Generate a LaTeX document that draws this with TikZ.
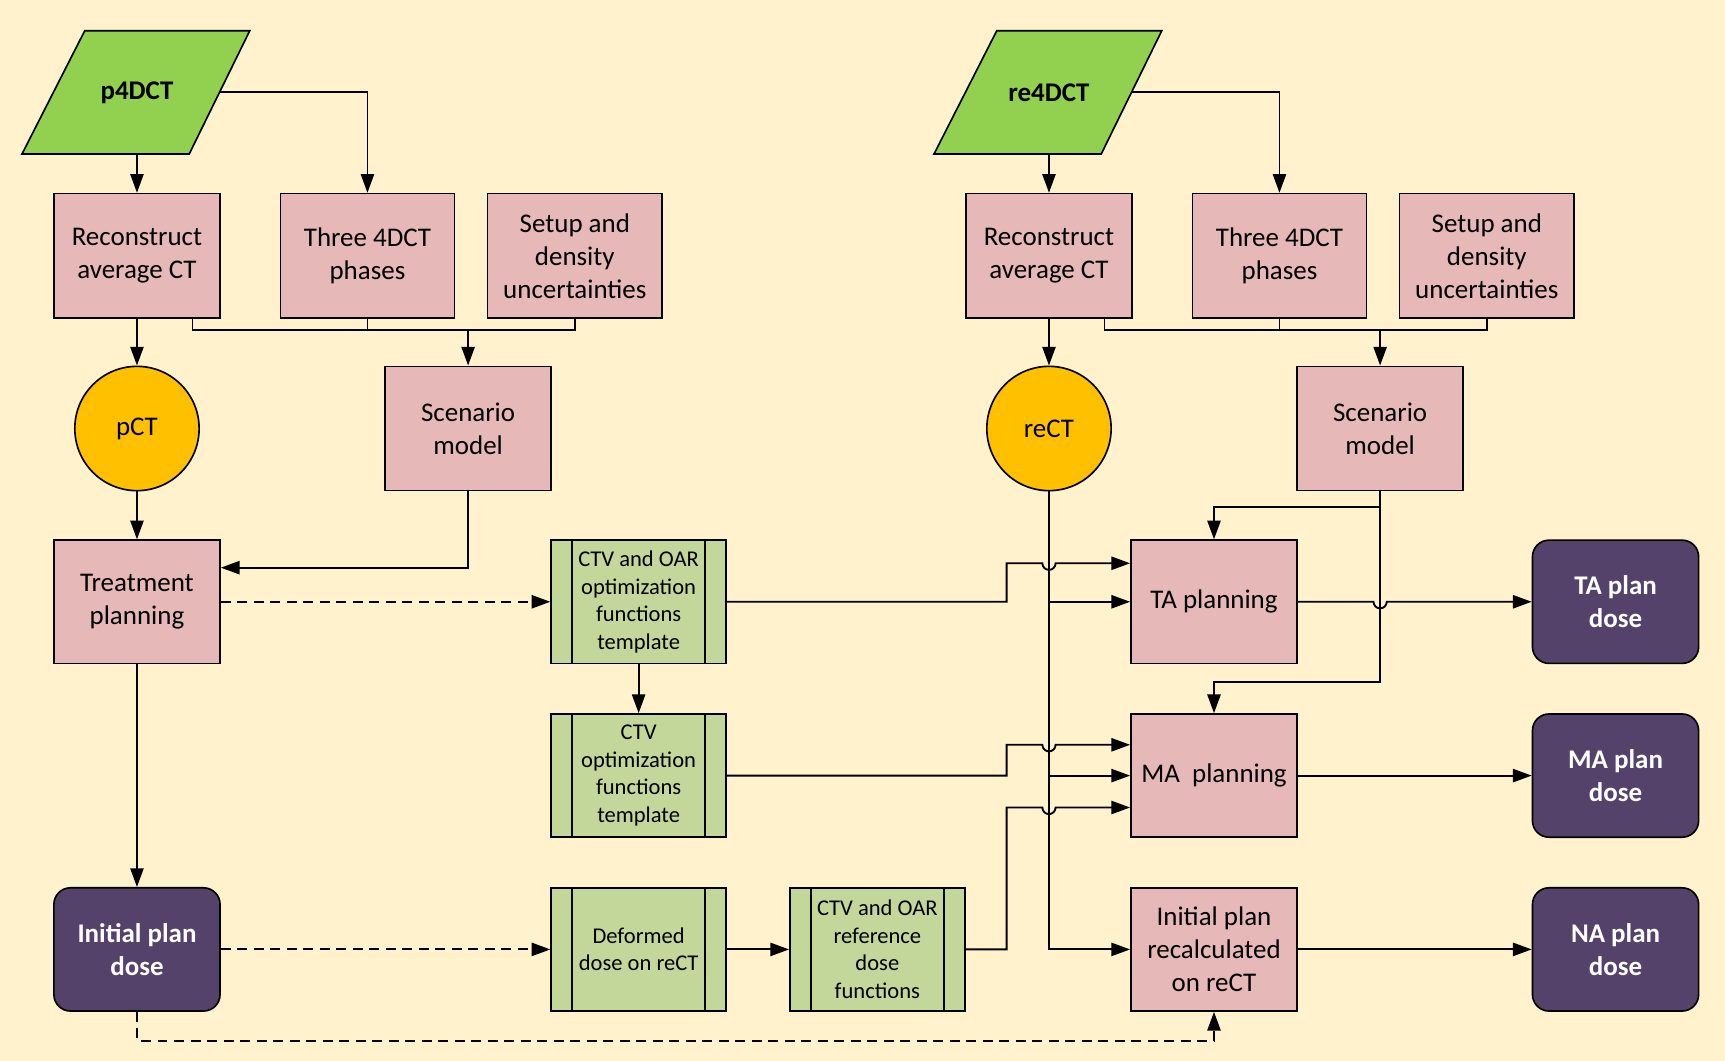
\documentclass[tikz,border=0pt]{standalone}
\usepackage{fontspec}
\setmainfont{Carlito}
\usetikzlibrary{arrows.meta}
\definecolor{bgc}{HTML}{FFF2CC}
\definecolor{pinkc}{HTML}{E6B8B7}
\definecolor{greenc}{HTML}{C4D79B}
\definecolor{datac}{HTML}{92D050}
\definecolor{orangec}{HTML}{FFC000}
\definecolor{purplec}{HTML}{55426B}
\tikzset{
  pinkbox/.style={draw, line width=1.5pt, fill=pinkc, minimum width=151pt, minimum height=113pt, align=center, inner sep=2pt, font=\fontsize{24.5}{30}\selectfont},
  greenbox/.style={draw, line width=1.5pt, fill=greenc, minimum width=159pt, minimum height=112pt, align=center, inner sep=2pt, font=\fontsize{20.5}{25}\selectfont,
    path picture={\draw[line width=1.5pt] ([xshift=19pt]path picture bounding box.north west) -- ([xshift=19pt]path picture bounding box.south west);
                  \draw[line width=1.5pt] ([xshift=-19pt]path picture bounding box.north east) -- ([xshift=-19pt]path picture bounding box.south east);}},
  dosebox/.style={draw, line width=1.5pt, fill=purplec, rounded corners=15pt, minimum width=151pt, minimum height=112pt, align=center, text=white, font=\fontsize{24.5}{30}\selectfont\bfseries},
  ctcircle/.style={draw, line width=1.5pt, fill=orangec, circle, minimum size=113pt, inner sep=0pt, font=\fontsize{24.5}{30}\selectfont},
  datashape/.style={draw, line width=1.5pt, fill=datac},
  conn/.style={line width=1.7pt},
  arr/.style={conn, -{Triangle[length=17pt, width=12pt]}},
  dashy/.style={dash pattern=on 9pt off 6pt},
}
\begin{document}
\begin{tikzpicture}[x=1pt, y=-1pt]
\fill[bgc] (0,0) rectangle (1568,964);
\useasboundingbox (0,0) rectangle (1568,964);

% ---- data inputs
\draw[datashape] (77,28) -- (227,28) -- (172,140) -- (20,140) -- cycle;
\node[minimum width=148pt, minimum height=112pt, inner sep=0pt, font=\fontsize{24.5}{30}\selectfont\bfseries] (p4) at (124.5,84) {p4DCT};
\draw[datashape] (906,28) -- (1056,28) -- (1001,140) -- (849,140) -- cycle;
\node[minimum width=148pt, minimum height=112pt, inner sep=0pt, font=\fontsize{24.5}{30}\selectfont\bfseries] (re4) at (953.5,84) {re4DCT};

% ---- top rows
\node[pinkbox] (rec1) at (124.5,232.5) {Reconstruct\\average CT};
\node[pinkbox, minimum width=158pt] (thr1) at (334,232.5) {Three 4DCT\\phases};
\node[pinkbox, minimum width=159pt] (set1) at (522.5,232.5) {Setup and\\density\\uncertainties};
\node[pinkbox] (scen1) at (425.5,389.5) {Scenario\\model};
\node[ctcircle] (pct) at (124.5,389.5) {pCT};

\node[pinkbox] (rec2) at (953.5,232.5) {Reconstruct\\average CT};
\node[pinkbox, minimum width=158pt] (thr2) at (1163,232.5) {Three 4DCT\\phases};
\node[pinkbox, minimum width=159pt] (set2) at (1351.5,232.5) {Setup and\\density\\uncertainties};
\node[pinkbox] (scen2) at (1254.5,389.5) {Scenario\\model};
\node[ctcircle] (rect) at (953.5,389.5) {reCT};

% ---- lower left
\node[pinkbox, minimum height=112pt] (treat) at (124.5,547) {Treatment\\planning};
\node[dosebox] (init) at (124.5,863) {Initial plan\\dose};
\node[greenbox] (ctvoar) at (580.5,547) {CTV and OAR\\optimization\\functions\\template};
\node[greenbox] (ctv) at (580.5,705) {CTV\\optimization\\functions\\template};
\node[greenbox] (deformed) at (580.5,863) {Deformed\\dose on reCT};
\node[greenbox] (ref) at (797.5,863) {CTV and OAR\\reference\\dose\\functions};

% ---- lower right
\node[pinkbox, minimum height=112pt] (ta) at (1103.5,547) {TA planning};
\node[pinkbox, minimum height=112pt] (ma) at (1103.5,705) {MA\ \ planning};
\node[pinkbox, minimum height=112pt] (recalc) at (1103.5,863) {Initial plan\\recalculated\\on reCT};
\node[dosebox] (tadose) at (1468.5,547) {TA plan\\dose};
\node[dosebox] (madose) at (1468.5,705) {MA plan\\dose};
\node[dosebox] (nadose) at (1468.5,863) {NA plan\\dose};

% ---- connectors left top
\draw[arr] (p4.south) -- (rec1.north);
\draw[arr] (p4.east) -| (thr1.north);
\coordinate (m1) at (425.5,300);
\draw[conn] ([xshift=50.5pt]rec1.south) |- (m1) -| (set1.south);
\draw[conn] (thr1.south) -- (thr1.south |- m1);
\draw[arr] (m1) -- (scen1.north);
\draw[arr] (rec1) -- (pct);
\draw[arr] (pct) -- (treat);
\draw[arr] (scen1.south) |- ([yshift=31pt]treat.east);

% ---- connectors right top
\draw[arr] (re4.south) -- (rec2.north);
\draw[arr] (re4.east) -| (thr2.north);
\coordinate (m2) at (1254.5,300);
\draw[conn] ([xshift=50.5pt]rec2.south) |- (m2) -| (set2.south);
\draw[conn] (thr2.south) -- (thr2.south |- m2);
\draw[arr] (m2) -- (scen2.north);
\draw[arr] (rec2) -- (rect);

% ---- left lower connectors
\draw[arr, dashy] (treat) -- (ctvoar);
\draw[arr] (ctvoar) -- (ctv);
\draw[arr] (treat) -- (init);
\draw[arr, dashy] (init) -- (deformed);
\draw[arr] (deformed) -- (ref);
\draw[arr, dashy] (init.south) -- (124.5,946) -| (recalc.south);

% ---- reCT distribution
\draw[arr] (rect.south) |- (recalc.west);
\draw[arr] (953.5,547) -- (ta.west);
\draw[arr] (953.5,705) -- (ma.west);

% ---- scenario model right
\draw[arr] (scen2.south) -- (1254.5,461) -| (ta.north);
\draw[arr] (1254.5,461) -- (1254.5,620) -| (ma.north);

% ---- template connectors with jumps
\draw[arr] (ctvoar.east) -- (915,547) -- (915,512) -- (947.5,512) arc[start angle=180, end angle=0, radius=6] -- ([yshift=35pt]ta.west);
\draw[arr] (ctv.east) -- (915,705) -- (915,677) -- (947.5,677) arc[start angle=180, end angle=0, radius=6] -- ([yshift=28pt]ma.west);
\draw[arr] (ref.east) -- (915,863) -- (915,734) -- (947.5,734) arc[start angle=180, end angle=0, radius=6] -- ([yshift=-29pt]ma.west);

% ---- outputs
\draw[arr] (ta.east) -- (1248.5,547) arc[start angle=180, end angle=0, radius=6] -- (tadose.west);
\draw[arr] (ma) -- (madose);
\draw[arr] (recalc) -- (nadose);
\end{tikzpicture}
\end{document}
